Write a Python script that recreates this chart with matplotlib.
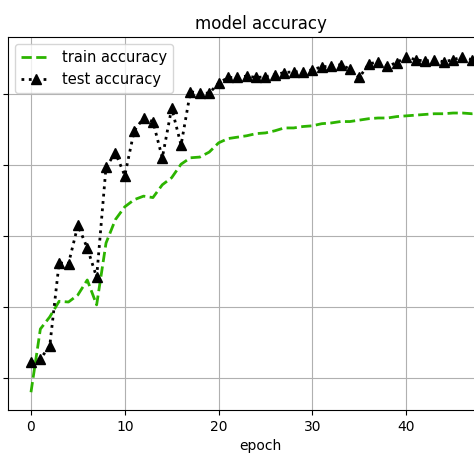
import numpy as np
import matplotlib
matplotlib.use("Agg")
import matplotlib.pyplot as plt

# accuracy per epoch
epochs = list(range(50))
train_acc = [0.480, 0.569, 0.586, 0.608, 0.607, 0.617, 0.638, 0.603, 0.690, 0.723,
             0.741, 0.751, 0.756, 0.754, 0.772, 0.782, 0.801, 0.810, 0.811, 0.818,
             0.831, 0.837, 0.839, 0.841, 0.844, 0.845, 0.848, 0.852, 0.852, 0.854,
             0.855, 0.858, 0.859, 0.861, 0.861, 0.863, 0.865, 0.866, 0.866, 0.868,
             0.869, 0.870, 0.871, 0.872, 0.872, 0.873, 0.873, 0.872, 0.873, 0.874]
test_acc = [0.5225, 0.527, 0.545, 0.662, 0.661, 0.715, 0.683, 0.642, 0.797, 0.817,
            0.785, 0.848, 0.866, 0.861, 0.810, 0.880, 0.828, 0.903, 0.901, 0.901,
            0.915, 0.923, 0.923, 0.925, 0.923, 0.924, 0.927, 0.930, 0.931, 0.931,
            0.934, 0.938, 0.939, 0.941, 0.935, 0.923, 0.942, 0.945, 0.939, 0.944,
            0.952, 0.948, 0.946, 0.948, 0.945, 0.948, 0.952, 0.948, 0.946, 0.948]
x_ticks = [0, 10, 20, 30, 40]
y_ticks = [0.5, 0.6, 0.7, 0.8, 0.9]

fig = plt.figure(figsize=(4.74, 4.74), dpi=100)
# axes run past the right edge, like the cropped original
ax = fig.add_axes([8/474, 64/474, 505.6/474, 373/474])

ax.plot(epochs, train_acc, '--', color='#2cb400', lw=2, label='train accuracy')
ax.plot(epochs, test_acc, ':', color='black', lw=2, marker='^', markersize=7,
        label='test accuracy')

ax.set_xlim(-2.45, 51.45)
ax.set_ylim(0.455, 0.980)
ax.set_xticks(x_ticks)
ax.set_yticks(y_ticks)
# y labels are cropped away in the original
ax.set_yticklabels([])
ax.tick_params(labelsize=10)
ax.grid(True)

ax.set_title('model accuracy', fontsize=12)
ax.set_xlabel('epoch', fontsize=10)
ax.legend(loc='upper left', fontsize=10.5)

fig.savefig('out.png', dpi=100)
